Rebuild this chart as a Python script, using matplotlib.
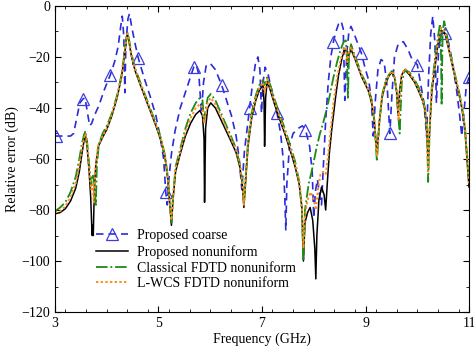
import numpy as np
import matplotlib
matplotlib.use("Agg")
import matplotlib.pyplot as plt
from matplotlib.ticker import MultipleLocator

# Relative error (dB) vs frequency (GHz)
# each series: (frequency, error) pairs
coarse = np.array([
    (3.00, -51), (3.02, -51), (3.10, -51), (3.20, -51), (3.30, -51), (3.36, -50),
    (3.42, -44), (3.48, -38), (3.54, -36.5), (3.58, -36), (3.62, -41), (3.67, -47),
    (3.71, -46), (3.76, -43), (3.85, -39), (3.95, -33), (4.07, -27), (4.15, -22),
    (4.22, -16), (4.27, -8), (4.30, -4), (4.33, -12), (4.35, -34), (4.37, -15),
    (4.41, -5), (4.44, -3), (4.48, -8), (4.55, -15), (4.61, -20.5), (4.72, -28),
    (4.84, -35.5), (4.95, -43), (5.03, -51), (5.10, -60), (5.14, -73), (5.17, -78),
    (5.20, -68), (5.25, -58), (5.32, -49), (5.42, -40), (5.55, -32), (5.68, -24),
    (5.73, -23), (5.78, -27), (5.83, -42), (5.87, -30), (5.92, -23.5), (6.00, -22.5),
    (6.10, -25), (6.22, -31), (6.30, -36), (6.41, -43), (6.50, -51), (6.56, -60),
    (6.61, -72), (6.66, -57), (6.76, -40), (6.82, -30), (6.87, -23), (6.92, -20),
    (6.96, -25), (6.99, -42), (7.02, -30), (7.06, -24), (7.12, -27), (7.20, -34),
    (7.29, -42), (7.36, -50), (7.41, -60), (7.44, -75), (7.46, -88), (7.48, -70),
    (7.53, -55), (7.60, -50), (7.70, -48), (7.78, -47), (7.84, -48.5), (7.92, -55),
    (7.97, -65), (8.00, -83), (8.03, -73), (8.07, -68), (8.12, -75), (8.15, -78),
    (8.18, -65), (8.23, -45), (8.28, -30), (8.33, -20), (8.38, -14), (8.43, -10),
    (8.48, -7), (8.53, -6), (8.57, -9), (8.60, -37), (8.64, -18), (8.68, -10),
    (8.72, -8), (8.80, -12), (8.92, -18.5), (9.00, -25), (9.06, -29), (9.11, -36),
    (9.15, -51), (9.19, -37), (9.24, -25), (9.30, -21), (9.36, -22), (9.42, -32),
    (9.47, -50), (9.51, -35), (9.56, -20), (9.63, -15), (9.73, -14), (9.82, -17),
    (9.90, -21), (10.00, -23), (10.07, -31), (10.13, -38), (10.18, -51), (10.22, -27),
    (10.26, -11), (10.30, -4), (10.34, -14), (10.37, -38), (10.41, -18), (10.46, -11),
    (10.53, -10.6), (10.60, -14), (10.68, -22), (10.76, -33), (10.82, -43), (10.86, -51),
    (10.90, -42), (10.95, -31), (11.00, -28),
])
coarse_marker_f = [3.02, 3.54, 4.07, 4.61, 5.14, 5.68, 6.22, 6.76,
                   7.29, 7.84, 8.38, 8.92, 9.47, 10.00, 10.53, 11.00]

nonuniform = np.array([
    (3.00, -81.5), (3.10, -81), (3.20, -79.5), (3.30, -76.5), (3.40, -71.5), (3.47, -65),
    (3.52, -58), (3.56, -53), (3.59, -51), (3.62, -55), (3.66, -65), (3.69, -75),
    (3.71, -86), (3.72, -90), (3.73, -86), (3.74, -90), (3.76, -72), (3.79, -62),
    (3.84, -55), (3.92, -51.5), (4.00, -48.5), (4.10, -43), (4.20, -36), (4.28, -28.5),
    (4.34, -20), (4.38, -13), (4.40, -11), (4.43, -14), (4.48, -20), (4.55, -25.5),
    (4.65, -31), (4.80, -39), (4.95, -47), (5.05, -53), (5.13, -60), (5.18, -68),
    (5.22, -78), (5.25, -86), (5.28, -76), (5.33, -65), (5.42, -58), (5.52, -51),
    (5.62, -46), (5.72, -42.5), (5.80, -41), (5.85, -43), (5.88, -52), (5.89, -77),
    (5.91, -48), (5.95, -40), (6.01, -38), (6.10, -40), (6.25, -46.5), (6.40, -53),
    (6.50, -57.5), (6.57, -63), (6.62, -70), (6.65, -79), (6.68, -70), (6.73, -55),
    (6.80, -44), (6.88, -37), (6.95, -33), (7.02, -31), (7.04, -38), (7.05, -55),
    (7.07, -36), (7.10, -29.5), (7.16, -33), (7.25, -39), (7.35, -45), (7.44, -50),
    (7.55, -57), (7.64, -63), (7.72, -70), (7.77, -79), (7.80, -100), (7.83, -85),
    (7.88, -81), (7.93, -79), (7.98, -84), (8.02, -95), (8.04, -107), (8.06, -90),
    (8.10, -76), (8.15, -71), (8.20, -74), (8.23, -80), (8.26, -70), (8.30, -58),
    (8.35, -48), (8.42, -36), (8.48, -27), (8.55, -20), (8.60, -17), (8.64, -18),
    (8.66, -24), (8.68, -19), (8.72, -17), (8.80, -21), (8.93, -28), (9.05, -33),
    (9.12, -38), (9.17, -45), (9.22, -58), (9.27, -45), (9.32, -36), (9.38, -31),
    (9.45, -27.5), (9.51, -26), (9.56, -28), (9.60, -33), (9.63, -43), (9.66, -33),
    (9.70, -27), (9.76, -25), (9.85, -27), (9.95, -30), (10.03, -33.5), (10.10, -37),
    (10.15, -41), (10.19, -50), (10.21, -63), (10.24, -48), (10.28, -34), (10.34, -24),
    (10.40, -15), (10.46, -9.5), (10.50, -10), (10.54, -11), (10.62, -18), (10.73, -28),
    (10.80, -34), (10.86, -40), (10.92, -48), (10.96, -60), (11.00, -71),
])

classical = np.array([
    (3.00, -80.5), (3.10, -79), (3.20, -77), (3.30, -73), (3.40, -67), (3.47, -60),
    (3.52, -54), (3.56, -50.5), (3.59, -49), (3.62, -53), (3.66, -62), (3.70, -70),
    (3.73, -66), (3.76, -70), (3.79, -78), (3.81, -62), (3.85, -54), (3.92, -50),
    (4.00, -47), (4.10, -42), (4.20, -35), (4.28, -27.5), (4.34, -19), (4.38, -12),
    (4.40, -10.5), (4.43, -13), (4.48, -19), (4.55, -24.5), (4.65, -30), (4.80, -38),
    (4.95, -46), (5.05, -52), (5.13, -59), (5.18, -67), (5.22, -77), (5.25, -85),
    (5.28, -75), (5.33, -63), (5.42, -56), (5.52, -48), (5.62, -42), (5.72, -38),
    (5.80, -36), (5.85, -37), (5.88, -45), (5.90, -42), (5.95, -36), (6.01, -34.5),
    (6.10, -37), (6.25, -44), (6.40, -51), (6.50, -56), (6.57, -62), (6.62, -69),
    (6.65, -77), (6.68, -68), (6.73, -53), (6.80, -42), (6.88, -35), (6.95, -31),
    (7.02, -29), (7.05, -31), (7.10, -28), (7.16, -31), (7.25, -37), (7.35, -43),
    (7.44, -48), (7.55, -55), (7.64, -61), (7.72, -69), (7.77, -80), (7.80, -100),
    (7.83, -80), (7.90, -70), (7.98, -63), (8.05, -56), (8.12, -50), (8.18, -46),
    (8.23, -42), (8.30, -36), (8.38, -28), (8.45, -22), (8.52, -17), (8.58, -14),
    (8.62, -13.5), (8.64, -20), (8.66, -36), (8.68, -20), (8.72, -15), (8.80, -20),
    (8.93, -27), (9.05, -32), (9.12, -37), (9.17, -45), (9.22, -61), (9.27, -45),
    (9.32, -35), (9.38, -30), (9.45, -27), (9.51, -25.5), (9.56, -28), (9.60, -34),
    (9.66, -50), (9.70, -30), (9.76, -25), (9.85, -26), (9.95, -29), (10.03, -32),
    (10.10, -36), (10.15, -40), (10.19, -50), (10.21, -69), (10.24, -48), (10.28, -32),
    (10.34, -21), (10.40, -12), (10.44, -7), (10.46, -20), (10.47, -39), (10.49, -10),
    (10.52, -6), (10.56, -10), (10.62, -17), (10.73, -27), (10.80, -33), (10.86, -39),
    (10.92, -47), (10.96, -58), (11.00, -68),
])

lwcs = np.array([
    (3.00, -81), (3.10, -80.5), (3.20, -78.5), (3.30, -75), (3.40, -69.5), (3.47, -62.5),
    (3.52, -56), (3.56, -52), (3.59, -50), (3.62, -54), (3.66, -64), (3.70, -72),
    (3.73, -70), (3.75, -77), (3.78, -64), (3.83, -55), (3.92, -51), (4.00, -48),
    (4.10, -42.5), (4.20, -35.5), (4.28, -28), (4.34, -19.5), (4.38, -12.5), (4.40, -10.8),
    (4.43, -13.5), (4.48, -19.5), (4.55, -25), (4.65, -30.5), (4.80, -38.5), (4.95, -46.5),
    (5.05, -52.5), (5.13, -59.5), (5.18, -67.5), (5.22, -77.5), (5.25, -84), (5.28, -75),
    (5.33, -64), (5.42, -57), (5.52, -49.5), (5.62, -44), (5.72, -40), (5.80, -38.5),
    (5.85, -40), (5.88, -46), (5.90, -44), (5.95, -38), (6.01, -36), (6.10, -38.5),
    (6.25, -45), (6.40, -52), (6.50, -56.5), (6.57, -62), (6.62, -69), (6.65, -78),
    (6.68, -69), (6.73, -54), (6.80, -43), (6.88, -36), (6.95, -32), (7.02, -30),
    (7.05, -34), (7.10, -28.5), (7.16, -32), (7.25, -38), (7.35, -44), (7.44, -49),
    (7.55, -56), (7.64, -62), (7.72, -69), (7.77, -78), (7.80, -95), (7.83, -82),
    (7.88, -76), (7.94, -73), (8.00, -76), (8.04, -80), (8.08, -72), (8.13, -66),
    (8.18, -65), (8.23, -66), (8.27, -60), (8.32, -50), (8.38, -38), (8.45, -28),
    (8.52, -21), (8.58, -17), (8.62, -16), (8.65, -22), (8.68, -18), (8.72, -16),
    (8.80, -20.5), (8.93, -27.5), (9.05, -32.5), (9.12, -37.5), (9.17, -45), (9.22, -59),
    (9.27, -45), (9.32, -35.5), (9.38, -30.5), (9.45, -27), (9.51, -25.5), (9.56, -27.5),
    (9.60, -33), (9.64, -45), (9.67, -33), (9.70, -27), (9.76, -24.5), (9.85, -26.5),
    (9.95, -29.5), (10.03, -33), (10.10, -36.5), (10.15, -40.5), (10.19, -50), (10.21, -65),
    (10.24, -48), (10.28, -33), (10.34, -23), (10.40, -14), (10.46, -8.5), (10.50, -9.5),
    (10.54, -10.5), (10.62, -17.5), (10.73, -27.5), (10.80, -33.5), (10.86, -39.5),
    (10.92, -47.5), (10.96, -59), (11.00, -70),
])

x_ticks = [3, 5, 7, 9, 11]
y_ticks = [0, -20, -40, -60, -80, -100, -120]

plt.rcParams['font.family'] = ['Liberation Serif', 'DejaVu Serif']
plt.rcParams['font.size'] = 10

fig = plt.figure(figsize=(4.74, 3.51), dpi=100)
ax = fig.add_axes([0.116, 0.111, 0.8735, 0.872])

idx = [int(np.argmin(np.abs(coarse[:, 0] - f))) for f in coarse_marker_f]
ax.plot(coarse[:, 0], coarse[:, 1], color='#2b2bd9', linestyle=(0, (4.5, 3)), linewidth=1.2,
        marker='^', markevery=idx, markersize=8, markerfacecolor='none',
        markeredgecolor='#3c3ce0', markeredgewidth=0.9, label='Proposed coarse')
ax.plot(nonuniform[:, 0], nonuniform[:, 1], color='black', linewidth=1.1,
        label='Proposed nonuniform')
ax.plot(classical[:, 0], classical[:, 1], color='#1a8a1a', linestyle='-.', linewidth=1.3,
        label='Classical FDTD nonuniform')
ax.plot(lwcs[:, 0], lwcs[:, 1], color='#ff8c1a', linestyle=(0, (1.2, 1.2)), linewidth=1.4,
        label='L-WCS FDTD nonuniform')

ax.set_xlim(3, 11)
ax.set_ylim(-120, 0)
ax.set_xticks(x_ticks)
ax.set_yticks(y_ticks)
ax.xaxis.set_minor_locator(MultipleLocator(0.4))
ax.yaxis.set_minor_locator(MultipleLocator(10))
ax.tick_params(which='both', direction='in', top=True, right=True)
ax.tick_params(which='major', length=4)
ax.tick_params(which='minor', length=2.5)
ax.set_xlabel('Frequency (GHz)', labelpad=2)
ax.set_ylabel('Relative error (dB)', labelpad=2)

ax.legend(loc='lower left', bbox_to_anchor=(0.07, 0.03), frameon=False,
          handlelength=2.3, labelspacing=0.2, handletextpad=0.6, fontsize=10)

plt.savefig("out.png", dpi=100)
